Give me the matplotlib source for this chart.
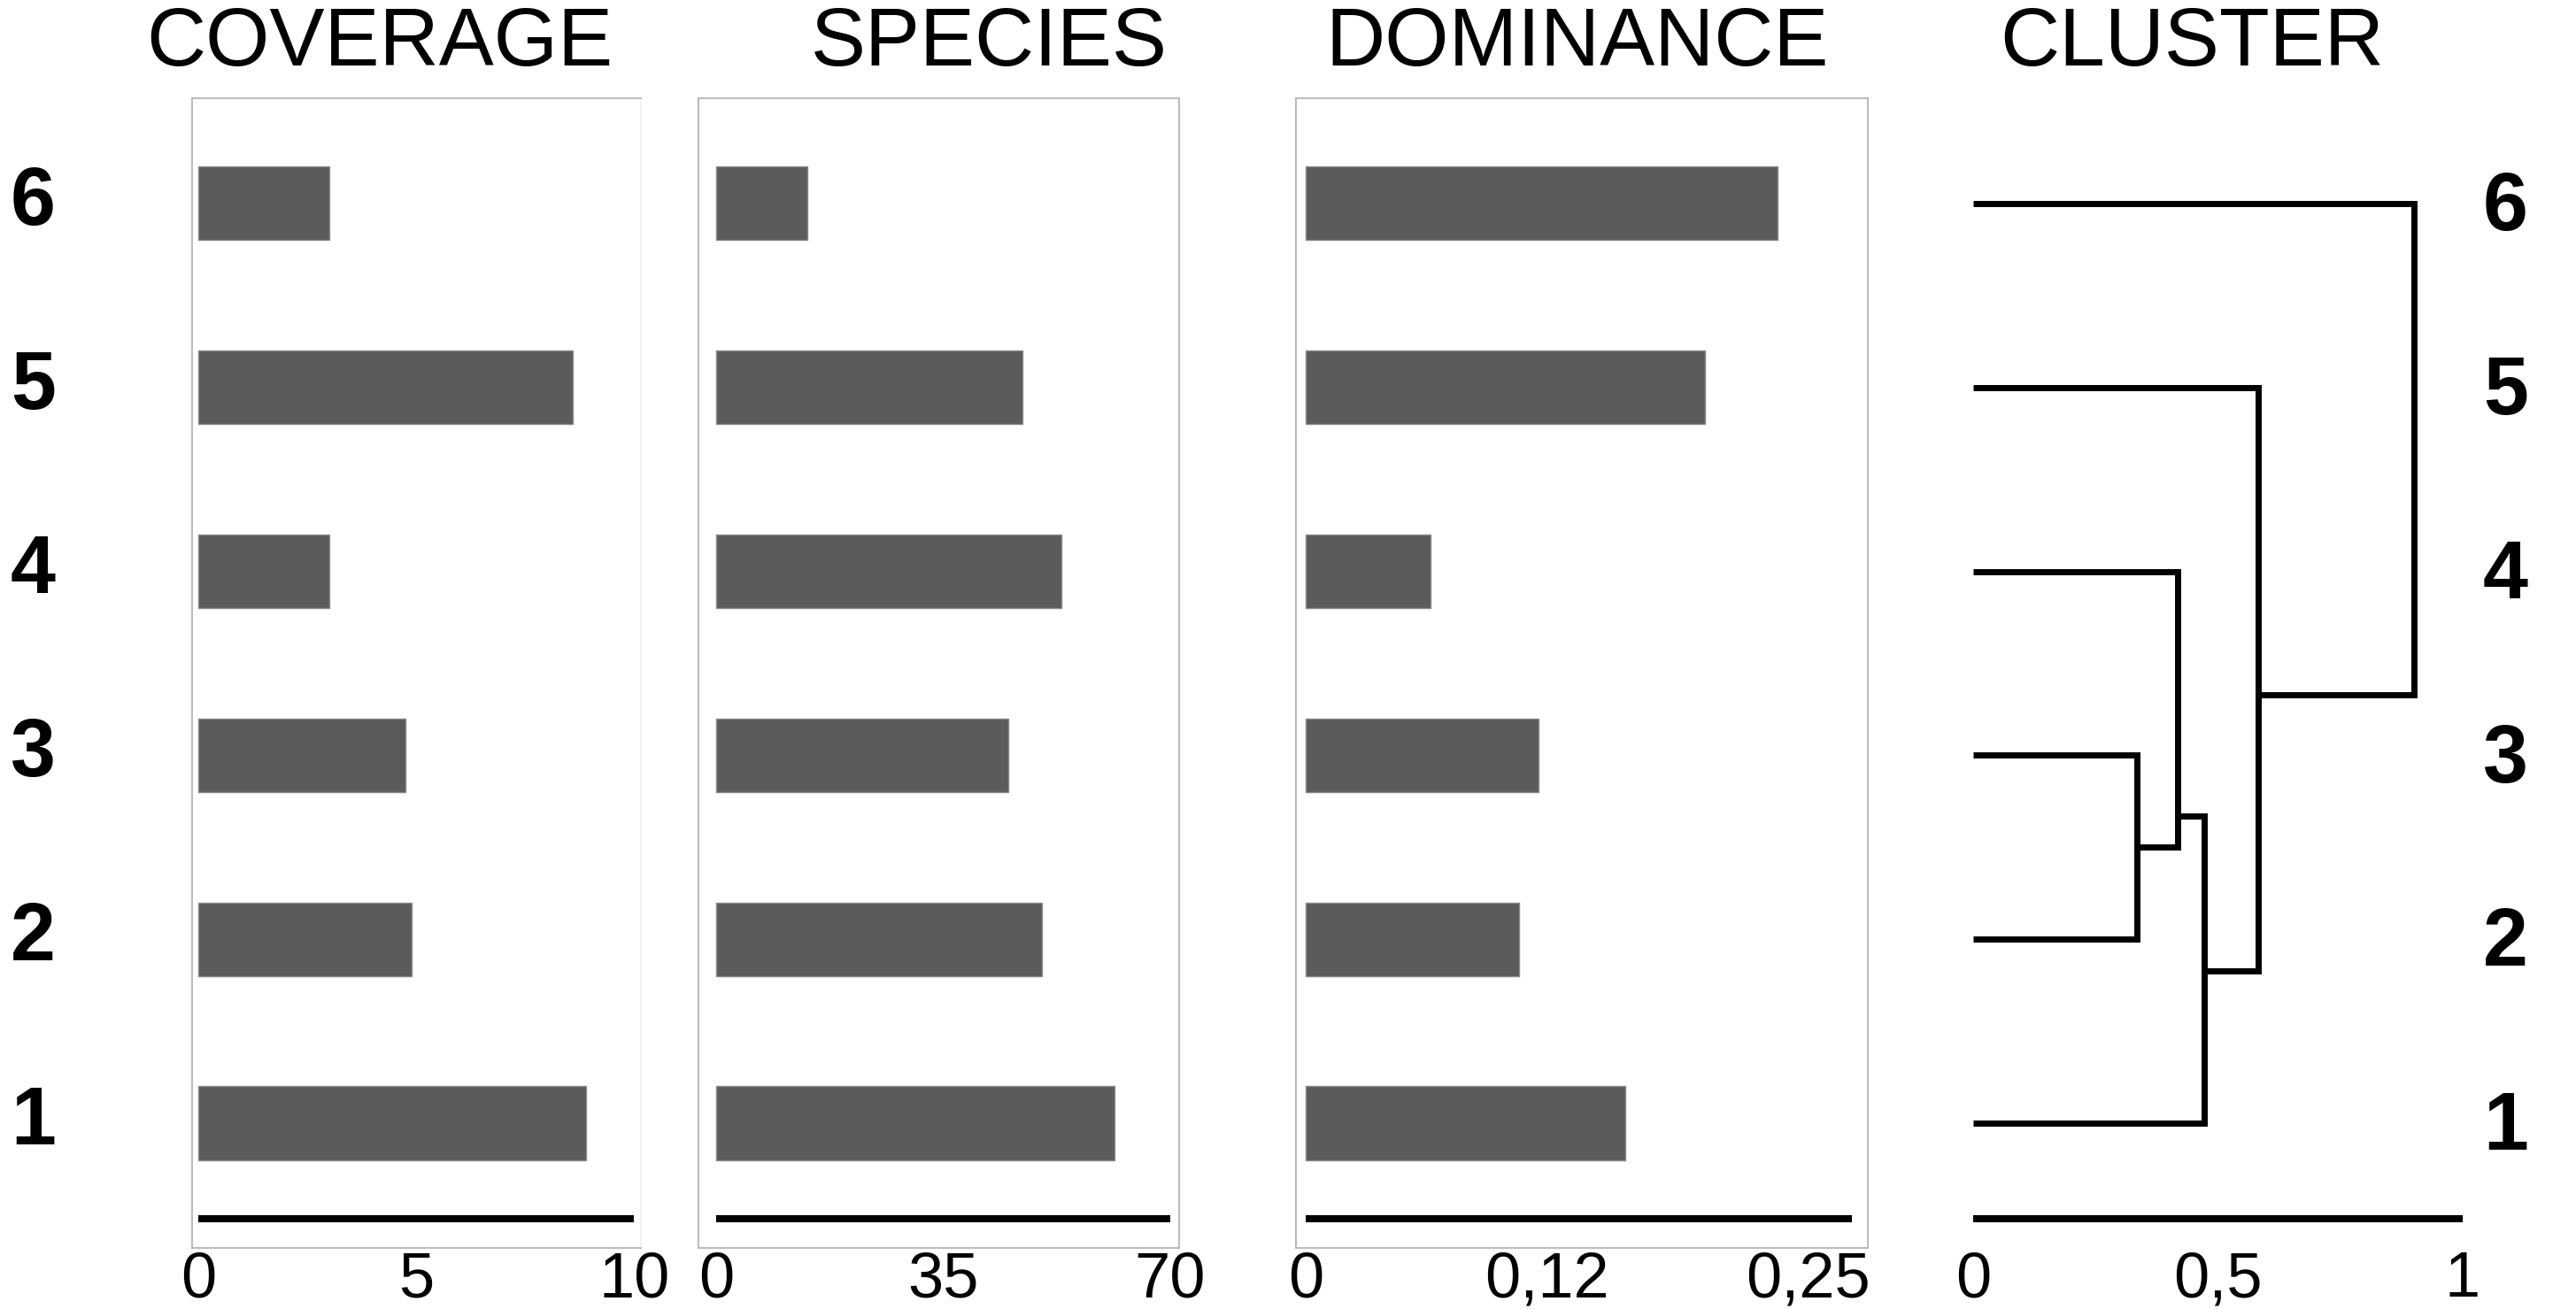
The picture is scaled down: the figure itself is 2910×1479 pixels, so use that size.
import matplotlib
matplotlib.use("Agg")
import matplotlib.pyplot as plt
import matplotlib.transforms as mtransforms

plt.rcParams['font.family'] = ['Liberation Sans', 'DejaVu Sans']

# ---------------- data ----------------
sites = [1, 2, 3, 4, 5, 6]
coverage = [8.9, 4.9, 4.75, 3.0, 8.6, 3.0]
species = [61.4, 50.2, 45.1, 53.3, 47.2, 14.0]
dominance = [0.159, 0.106, 0.116, 0.062, 0.199, 0.235]

titles = ["COVERAGE", "SPECIES", "DOMINANCE", "CLUSTER"]
cov_ticks = [0, 5, 10]
cov_labels = ["0", "5", "10"]
spe_ticks = [0, 35, 70]
spe_labels = ["0", "35", "70"]
dom_ticks = [0, 0.12, 0.25]
dom_labels = ["0", "0,12", "0,25"]
clu_ticks = [0, 0.5, 1]
clu_labels = ["0", "0,5", "1"]

# dendrogram merges (children y, children x, merge distance, node y)
merge_children_y = [(3, 2), (4, 2.5), (2.67, 1), (5, 1.83), (6, 3.33)]
merge_children_x = [(0, 0), (0, 0.334), (0.418, 0), (0, 0.472), (0, 0.582)]
merge_height = [0.334, 0.418, 0.472, 0.582, 0.90]

# ---------------- layout ----------------
fig = plt.figure(figsize=(29.10, 14.79), dpi=100)
ymin, ymax = 0.32, 6.57
bottom, top = 0.0464, 0.9247
panels = [(0.0746, 0.2487), (0.2710, 0.4579), (0.5032, 0.7251), (0.7589, 0.9630)]
xlims = [(-0.15, 10.15), (-2.79, 71.5), (-0.0049, 0.280), (-0.037, 1.037)]
line_end = [10.0, 70.0, 0.272, 1.0]
title_x = [0.1473, 0.3839, 0.6122, 0.8508]

axes = []
for (l, r), xl in zip(panels, xlims):
    ax = fig.add_axes([l, bottom, r - l, top - bottom])
    ax.set_xlim(*xl)
    ax.set_ylim(ymin, ymax)
    ax.set_yticks([])
    axes.append(ax)

bar_color = '#5b5b5b'
edge_color = '#8a8a8a'
spine_color = '#b4b4b4'
values = [coverage, species, dominance]
ticks = [cov_ticks, spe_ticks, dom_ticks, clu_ticks]
tlabels = [cov_labels, spe_labels, dom_labels, clu_labels]

for i, ax in enumerate(axes):
    if i < 3:
        ax.barh(sites, values[i], height=0.40, color=bar_color,
                edgecolor=edge_color, linewidth=1.0)
        for s in ax.spines.values():
            s.set_color(spine_color)
            s.set_linewidth(1.3)
        if i == 0:
            ax.spines['right'].set_color('#f2f2f2')
    else:
        for s in ax.spines.values():
            s.set_visible(False)
    ax.plot([0, line_end[i]], [0.48, 0.48], color='black', lw=5.8,
            solid_capstyle='butt')
    ax.set_xticks(ticks[i])
    ax.set_xticklabels(tlabels[i], fontsize=52)
    ax.tick_params(axis='x', length=0, pad=2)
    fig.text(title_x[i], 0.95, titles[i], fontsize=67, ha='center', va='baseline')

# dendrogram
axc = axes[3]
for (ya, yb), (xa, xb), h in zip(merge_children_y, merge_children_x, merge_height):
    axc.plot([xa, h, h, xb], [ya, ya, yb, yb], color='black', lw=5,
             solid_joinstyle='miter', solid_capstyle='butt')

# site labels
trans_left = mtransforms.blended_transform_factory(fig.transFigure, axes[0].transData)
trans_right = mtransforms.blended_transform_factory(fig.transFigure, axc.transData)
for s in sites:
    axes[0].text(0.0128, s, str(s), transform=trans_left, fontsize=66,
                 fontweight='bold', ha='center', va='center')
    axc.text(0.9726, s - 0.03, str(s), transform=trans_right, fontsize=66,
             fontweight='bold', ha='center', va='center')

fig.savefig("out.png", dpi=100, facecolor='white')
